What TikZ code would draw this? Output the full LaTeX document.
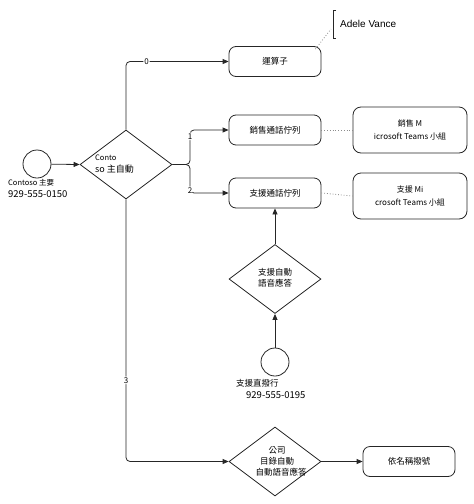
\documentclass[tikz,border=0pt]{standalone}
\usepackage{fontspec}
\setmainfont{Noto Sans CJK TC}
\newfontfamily\latinfont{Liberation Sans}
\usetikzlibrary{arrows.meta,shapes.geometric}
\begin{document}
\begin{tikzpicture}[x=1pt,y=-1pt,
  font=\fontsize{8.5}{11}\selectfont,
  line/.style={draw=black!85, line width=0.8pt},
  arr/.style={line, -{Triangle[length=6pt,width=5pt]}, rounded corners=4pt},
  box/.style={line, rounded corners=7pt, minimum width=92pt, minimum height=30pt, inner sep=0pt},
  bigbox/.style={line, rounded corners=8pt, minimum width=114pt, minimum height=46pt, inner sep=0pt, align=center, font=\fontsize{8}{13.5}\selectfont},
  dia/.style={line, shape=diamond, minimum width=92pt, minimum height=69pt, inner sep=0pt},
  circ/.style={line, circle, minimum size=28pt, inner sep=0pt},
  lbl/.style={fill=white, inner sep=1pt, font=\fontsize{8}{9}\selectfont},
  dots/.style={draw=black!45, dotted, line width=0.8pt}
]
\useasboundingbox (0,0) rectangle (474,504);

% nodes
\node[box] (op) at (275,61.5) {運算子};
\node[box] (sq) at (275,130) {銷售通話佇列};
\node[box] (pq) at (275,193) {支援通話佇列};
\node[bigbox] (st) at (410,130) {銷售 M\\icrosoft Teams 小組};
\node[bigbox] (pt) at (410,196) {支援 Mi\\crosoft Teams 小組};
\node[circ] (mc) at (37,164) {};
\node[anchor=north west, align=left, inner sep=0pt] (mcl) at (8,179)
  {{\fontsize{7.5}{9}\selectfont Contoso 主要}\\[1pt]{\fontsize{9.5}{11}\selectfont 929-555-0150}};
\node[dia] (cd) at (126,164.5) {};
\node[anchor=west, align=left, inner sep=0pt] (cdt) at (95,164)
  {{\fontsize{7.5}{9}\selectfont Conto}\\[1pt]{\fontsize{9}{11}\selectfont so 主自動}};
\node[dia] (sad) at (275,279) {};
\node[align=center, inner sep=0pt] (sadt) at (275,278) {支援自動\\語音應答};
\node[circ] (sc) at (275,362) {};
\node[align=left, inner sep=0pt, anchor=north west] (scl) at (236,379)
  {支援直撥行\\[1pt]\hspace*{10pt}{\fontsize{9.5}{11}\selectfont 929-555-0195}};
\node[dia] (cad) at (275,461.5) {};
\node[align=center, inner sep=0pt] (cadt) at (277,461) {公司\\目錄自動\\\hspace*{8pt}自動語音應答};
\node[box] (dn) at (409,461.5) {依名稱撥號};
\node[anchor=west, inner sep=0pt, font=\latinfont\fontsize{10}{12}\selectfont] (adele) at (340,24) {Adele Vance};
\coordinate (bt) at (333,10);
\coordinate (bb) at (333,38);
\coordinate (br) at (190,164.5);

% connectors
\draw[arr] (mc) -- (cd.west);
\draw[arr] (cd.north) |- node[lbl, pos=0.6] {0} (op.west);
\draw[arr] (cd.east) -- (br) |- node[lbl, pos=0.41] {1} (sq.west);
\draw[arr] (cd.east) -- (br) |- node[lbl, pos=0.45] {2} (pq.west);
\draw[arr] (cd.south) |- node[lbl, pos=0.345] {3} (cad.west);
\draw[arr] (sad.north) -- (pq.south);
\draw[arr] (sc.north) -- (sad.south);
\draw[arr] (cad.east) -- (dn.west);
\draw[dots] (sq.east) -- (st.west);
\draw[dots] (pq.east) -- (pt.west);
\draw[line, line width=0.7pt] ([xshift=3pt]bt) -- (bt) -- (bb) -- ([xshift=3pt]bb);
\draw[dots] ([xshift=-6pt,yshift=-3pt]op.north east) -- (331,29);
\end{tikzpicture}
\end{document}
